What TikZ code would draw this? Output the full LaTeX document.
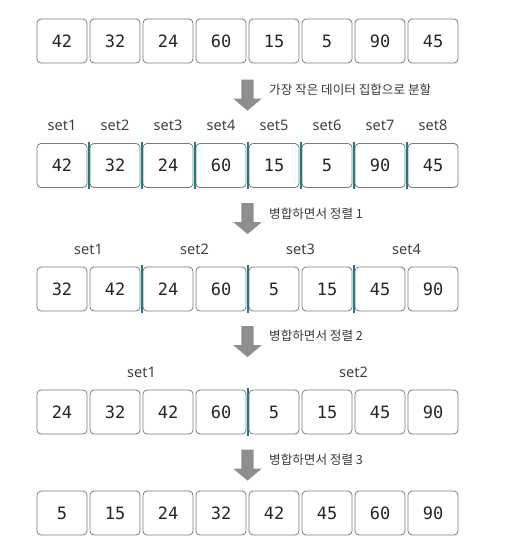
\documentclass[tikz,border=0pt]{standalone}
\usepackage{fontspec}
\usetikzlibrary{arrows.meta,positioning,shapes.arrows}
\newfontfamily\numfont{DejaVu Sans Mono}
\newfontfamily\setfont{Noto Sans}
\newfontfamily\krfont{Noto Sans CJK KR}
\definecolor{divteal}{HTML}{23797F}
\definecolor{boxgray}{HTML}{7A7A7A}
\definecolor{arrowgray}{HTML}{8E8E8E}

\begin{document}
\begin{tikzpicture}[x=1pt,y=-1pt,
		cell/.style={draw=boxgray,line width=0.8pt,rounded corners=4pt,fill=white,
			minimum width=50pt,minimum height=44pt,inner sep=0pt,
			font=\numfont\fontsize{17}{17}\selectfont,text=black!85},
		setlabel/.style={font=\setfont\fontsize{14.5}{14.5}\selectfont,text=black!75,inner sep=0pt},
		steplabel/.style={font=\krfont\fontsize{12.6}{12.6}\selectfont,text=black!78,anchor=west,inner sep=0pt},
		downarrow/.style={single arrow,shape border rotate=270,fill=arrowgray,draw=none,
			inner sep=6pt,minimum height=31pt,minimum width=28pt,
			single arrow head extend=8pt,single arrow tip angle=100},
		divider/.style={draw=divteal,line width=2pt}]
		\useasboundingbox (0,0) rectangle (506,551);

		% row 1: input
		\begin{scope}[every node/.style={cell}]
			\node (a1) at (62,41) {42};
			\node (a2) at (115,41) {32};
			\node (a3) at (168,41) {24};
			\node (a4) at (221,41) {60};
			\node (a5) at (274,41) {15};
			\node (a6) at (327,41) {5};
			\node (a7) at (380,41) {90};
			\node (a8) at (433,41) {45};
		\end{scope}

		\node[downarrow] (s1) at (247.5,92.5) {};
		\node[steplabel] (t1) at (269,90) {가장 작은 데이터 집합으로 분할};

		% row 2: split
		\begin{scope}[every node/.style={cell}]
			\node (b1) at (62,165.5) {42};
			\node (b2) at (115,165.5) {32};
			\node (b3) at (168,165.5) {24};
			\node (b4) at (221,165.5) {60};
			\node (b5) at (274,165.5) {15};
			\node (b6) at (327,165.5) {5};
			\node (b7) at (380,165.5) {90};
			\node (b8) at (433,165.5) {45};
		\end{scope}
		\begin{scope}[every node/.style={setlabel}]
			\node (bl1) at (62,125) {set1};
			\node (bl2) at (115,125) {set2};
			\node (bl3) at (168,125) {set3};
			\node (bl4) at (221,125) {set4};
			\node (bl5) at (274,125) {set5};
			\node (bl6) at (327,125) {set6};
			\node (bl7) at (380,125) {set7};
			\node (bl8) at (433,125) {set8};
		\end{scope}
		\begin{scope}[divider]
			\draw ([xshift=1.5pt,yshift=1.5pt]b1.north east) -- ([xshift=1.5pt,yshift=-1.5pt]b1.south east);
			\draw ([xshift=1.5pt,yshift=1.5pt]b2.north east) -- ([xshift=1.5pt,yshift=-1.5pt]b2.south east);
			\draw ([xshift=1.5pt,yshift=1.5pt]b3.north east) -- ([xshift=1.5pt,yshift=-1.5pt]b3.south east);
			\draw ([xshift=1.5pt,yshift=1.5pt]b4.north east) -- ([xshift=1.5pt,yshift=-1.5pt]b4.south east);
			\draw ([xshift=1.5pt,yshift=1.5pt]b5.north east) -- ([xshift=1.5pt,yshift=-1.5pt]b5.south east);
			\draw ([xshift=1.5pt,yshift=1.5pt]b6.north east) -- ([xshift=1.5pt,yshift=-1.5pt]b6.south east);
			\draw ([xshift=1.5pt,yshift=1.5pt]b7.north east) -- ([xshift=1.5pt,yshift=-1.5pt]b7.south east);
		\end{scope}

		\node[downarrow] (s2) at (247.5,216) {};
		\node[steplabel] (t2) at (269,214) {병합하면서 정렬 1};

		% row 3: pairs
		\begin{scope}[every node/.style={cell}]
			\node (c1) at (62,289) {32};
			\node (c2) at (115,289) {42};
			\node (c3) at (168,289) {24};
			\node (c4) at (221,289) {60};
			\node (c5) at (274,289) {5};
			\node (c6) at (327,289) {15};
			\node (c7) at (380,289) {45};
			\node (c8) at (433,289) {90};
		\end{scope}
		\begin{scope}[every node/.style={setlabel}]
			\node (cl1) at (88.5,249) {set1};
			\node (cl2) at (194.5,249) {set2};
			\node (cl3) at (300.5,249) {set3};
			\node (cl4) at (406.5,249) {set4};
		\end{scope}
		\begin{scope}[divider]
			\draw ([xshift=1.5pt,yshift=1.5pt]c2.north east) -- ([xshift=1.5pt,yshift=-1.5pt]c2.south east);
			\draw ([xshift=1.5pt,yshift=1.5pt]c4.north east) -- ([xshift=1.5pt,yshift=-1.5pt]c4.south east);
			\draw ([xshift=1.5pt,yshift=1.5pt]c6.north east) -- ([xshift=1.5pt,yshift=-1.5pt]c6.south east);
		\end{scope}

		\node[downarrow] (s3) at (247.5,339) {};
		\node[steplabel] (t3) at (269,336) {병합하면서 정렬 2};

		% row 4: halves
		\begin{scope}[every node/.style={cell}]
			\node (d1) at (62,412) {24};
			\node (d2) at (115,412) {32};
			\node (d3) at (168,412) {42};
			\node (d4) at (221,412) {60};
			\node (d5) at (274,412) {5};
			\node (d6) at (327,412) {15};
			\node (d7) at (380,412) {45};
			\node (d8) at (433,412) {90};
		\end{scope}
		\begin{scope}[every node/.style={setlabel}]
			\node (dl1) at (141.5,372) {set1};
			\node (dl2) at (353.5,372) {set2};
		\end{scope}
		\draw[divider] ([xshift=1.5pt,yshift=1.5pt]d4.north east) -- ([xshift=1.5pt,yshift=-1.5pt]d4.south east);

		\node[downarrow] (s4) at (247.5,462.5) {};
		\node[steplabel] (t4) at (269,460) {병합하면서 정렬 3};

		% row 5: sorted
		\begin{scope}[every node/.style={cell}]
			\node (e1) at (62,513) {5};
			\node (e2) at (115,513) {15};
			\node (e3) at (168,513) {24};
			\node (e4) at (221,513) {32};
			\node (e5) at (274,513) {42};
			\node (e6) at (327,513) {45};
			\node (e7) at (380,513) {60};
			\node (e8) at (433,513) {90};
		\end{scope}
	\end{tikzpicture}
\end{document}
